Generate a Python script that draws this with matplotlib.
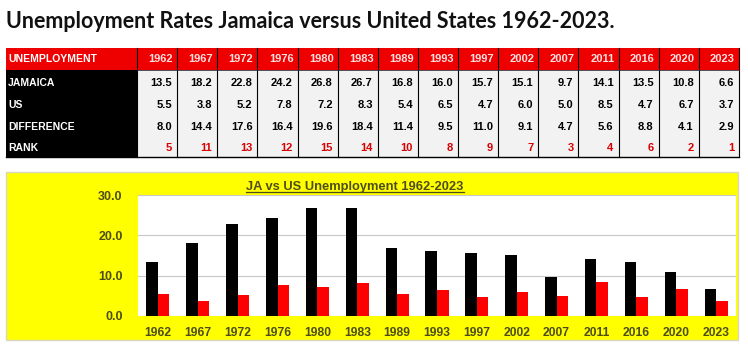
import matplotlib.pyplot as plt
import numpy as np
from matplotlib.patches import Rectangle

years = ["1962", "1967", "1972", "1976", "1980", "1983", "1989", "1993",
         "1997", "2002", "2007", "2011", "2016", "2020", "2023"]
jamaica = [13.5, 18.2, 22.8, 24.2, 26.8, 26.7, 16.8, 16.0, 15.7, 15.1, 9.7, 14.1, 13.5, 10.8, 6.6]
us = [5.5, 3.8, 5.2, 7.8, 7.2, 8.3, 5.4, 6.5, 4.7, 6.0, 5.0, 8.5, 4.7, 6.7, 3.7]
difference = [8.0, 14.4, 17.6, 16.4, 19.6, 18.4, 11.4, 9.5, 11.0, 9.1, 4.7, 5.6, 8.8, 4.1, 2.9]
rank = [5, 11, 13, 12, 15, 14, 10, 8, 9, 7, 3, 4, 6, 2, 1]

W, H = 748, 348
RED = "#ee0000"
OLIVE = "#4d4d1a"
FONT = "Liberation Sans"

fig = plt.figure(figsize=(W / 100, H / 100), dpi=100)
fig.patch.set_facecolor("white")

# full-figure canvas in pixel units for the title, table and chart frame
ax = fig.add_axes([0, 0, 1, 1])
ax.set_xlim(0, W)
ax.set_ylim(H, 0)
ax.axis("off")

ax.text(6, 28, "Unemployment Rates Jamaica versus United States 1962-2023.",
        fontsize=15.5, fontweight="bold", family="Lato", color="#111111",
        ha="left", va="baseline")

# table
tx0, tx1 = 6, 137
col_w = (739 - tx1) / len(years)
y_head, y_body, y_end = 48, 70, 157
row_y = [83, 105, 127, 148]
row_names = ["JAMAICA", "US", "DIFFERENCE", "RANK"]

ax.add_patch(Rectangle((tx0, y_head), 739 - tx0, y_body - y_head, color=RED, lw=0))
ax.add_patch(Rectangle((tx0, y_body), tx1 - tx0, y_end - y_body, color="black", lw=0))
ax.add_patch(Rectangle((tx1, y_body), 739 - tx1, y_end - y_body, color="#f2f2f2", lw=0))

ax.text(tx0 + 2, (y_head + y_body) / 2, "UNEMPLOYMENT", color="white",
        fontsize=7.5, fontweight="bold", family=FONT, ha="left", va="center")
for name, y in zip(row_names, row_y):
    ax.text(tx0 + 2, y, name, color="white", fontsize=7.5, fontweight="bold",
            family=FONT, ha="left", va="center")

rows = [
    ([f"{v:.1f}" for v in jamaica], "black"),
    ([f"{v:.1f}" for v in us], "black"),
    ([f"{v:.1f}" for v in difference], "black"),
    ([str(v) for v in rank], "#d80000"),
]
for i, yr in enumerate(years):
    left = tx1 + i * col_w
    right = left + col_w
    ax.plot([left, left], [y_head, y_end], color="black", lw=0.8)
    ax.text(right - 4, (y_head + y_body) / 2, yr, color="#ffe0e0", fontsize=8,
            fontweight="bold", family=FONT, ha="right", va="center")
    for (vals, c), y in zip(rows, row_y):
        ax.text(right - 5, y, vals[i], color=c, fontsize=8, fontweight="bold",
                family=FONT, ha="right", va="center")
ax.plot([739, 739], [y_head, y_end], color="black", lw=0.8)
ax.plot([tx0, 739], [y_end, y_end], color="black", lw=1)
ax.plot([tx1, 739], [y_body, y_body], color="#333333", lw=0.6)

# chart frame
ax.add_patch(Rectangle((6, 172), 732, 168, facecolor="#ffff00",
                       edgecolor="#d8d8c0", lw=1))
title = "JA vs US Unemployment 1962-2023"
t = ax.text(355, 190, title, color=OLIVE, fontsize=9.3, fontweight="bold",
            family=FONT, ha="center", va="baseline")
fig.canvas.draw()
bb = t.get_window_extent().transformed(ax.transData.inverted())
ax.plot([bb.x0, bb.x1], [191.5, 191.5], color=OLIVE, lw=0.9)

# bar chart
px0, px1, py_top, py_bot = 138, 736, 195, 316
bx = fig.add_axes([px0 / W, (H - py_bot) / H, (px1 - px0) / W, (py_bot - py_top) / H])
bx.set_facecolor("white")
x = np.arange(len(years))
bw = 0.29
bx.bar(x - bw / 2, jamaica, width=bw, color="black", zorder=3)
bx.bar(x + bw / 2, us, width=bw, color="#ff0000", zorder=3)
bx.set_xlim(-0.5, len(years) - 0.5)
bx.set_ylim(0, 30)
bx.set_yticks([0, 10, 20, 30])
bx.set_yticklabels(["0.0", "10.0", "20.0", "30.0"])
bx.set_xticks(x)
bx.set_xticklabels(years)
bx.grid(axis="y", color="#c8c8c8", lw=0.8, zorder=0)
for s in bx.spines.values():
    s.set_visible(False)
bx.tick_params(length=0, labelsize=8.7, labelcolor=OLIVE)
bx.tick_params(axis="y", pad=11, labelsize=9)
bx.tick_params(axis="x", pad=8)
for lab in bx.get_xticklabels() + bx.get_yticklabels():
    lab.set_fontweight("bold")
    lab.set_family(FONT)

fig.savefig("out.png", dpi=100)
